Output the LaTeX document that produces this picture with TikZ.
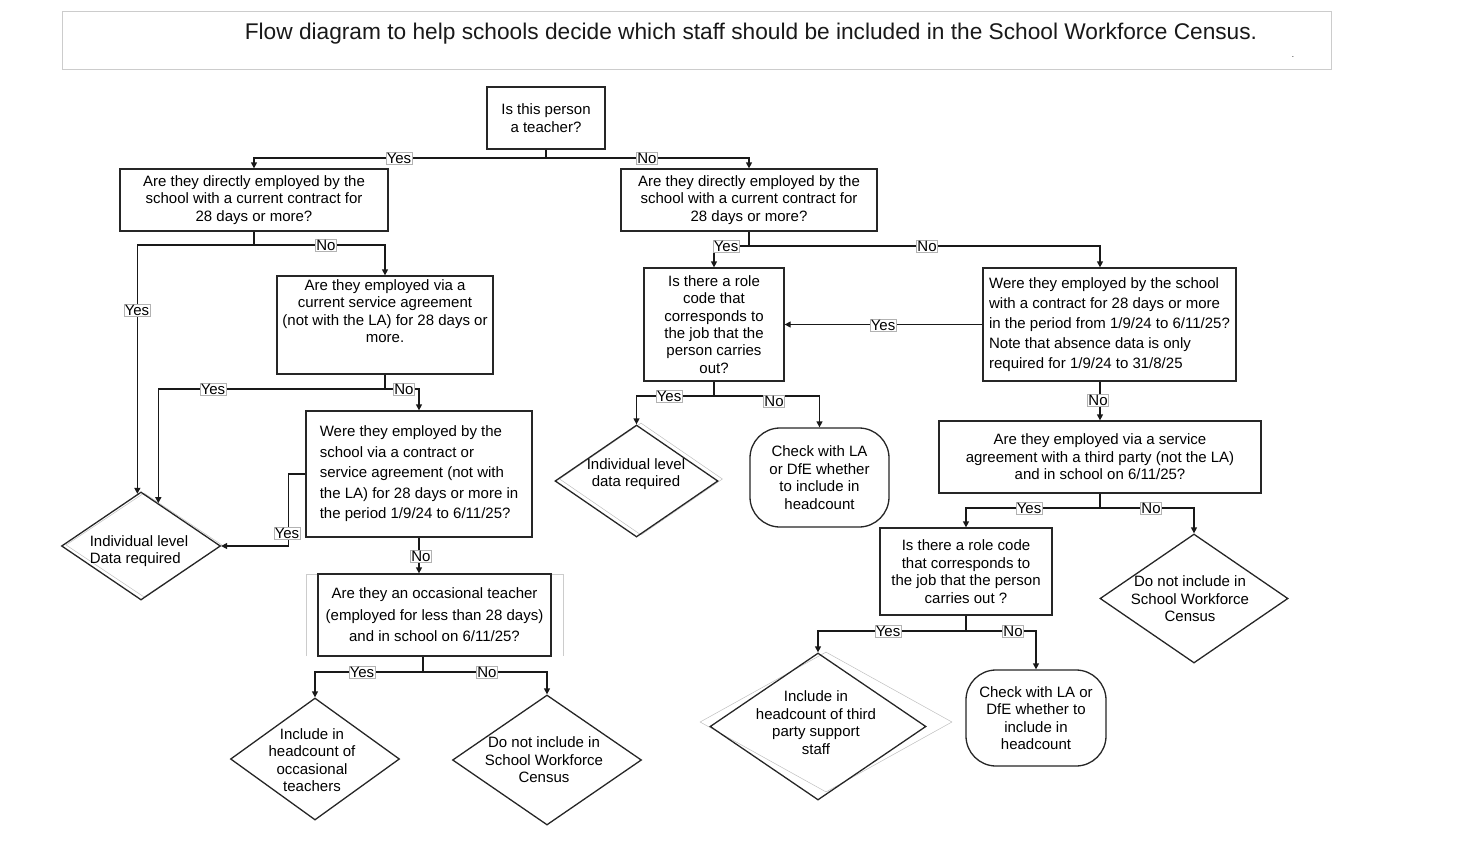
\documentclass[tikz,border=0pt]{standalone}
\usepackage{fontspec}
\setmainfont{Liberation Sans}
\usetikzlibrary{arrows.meta,shapes.geometric}

\begin{document}
\begin{tikzpicture}[x=1pt,y=-1pt,
    box/.style={draw=black!85,line width=1.3pt,fill=white,align=center,inner sep=2pt,font=\fontsize{15}{17.5}\selectfont},
    term/.style={box,rounded corners=30pt},
    dec/.style={draw=black!85,line width=1.3pt,diamond,inner sep=0pt},
    ghost/.style={draw=black!25,line width=0.5pt,diamond,inner sep=0pt},
    txt/.style={align=center,inner sep=0pt,font=\fontsize{15}{17.5}\selectfont},
    lbl/.style={fill=white,draw=black!30,line width=0.4pt,inner sep=1pt,font=\fontsize{15}{17}\selectfont},
    link/.style={line width=1.3pt,draw=black!90},
    arr/.style={link,-{Triangle[length=6pt,width=6pt]}}]

      \useasboundingbox (0,0) rectangle (1457,860);

      \node[draw=black!20,line width=1pt,minimum width=1269,minimum height=58] (head) at (696.5,40) {};
      \node[font=\fontsize{22.7}{26}\selectfont,text=black!90] (title) at (751,34) {Flow diagram to help schools decide which staff should be included in the School Workforce Census.};
      \node[font=\fontsize{8}{8}\selectfont] (dot) at (1293,57) {.};

      \node[box,minimum width=118,minimum height=62] (n1) at (546,118) {Is this person\\a teacher?};

      \node[box,minimum width=268,minimum height=62] (l1) at (254,200) {Are they directly employed by the\\school with a current contract for\\28 days or more?};
      \node[box,minimum width=216,minimum height=98] (l2) at (385,325) {Are they employed via a\\current service agreement\\(not with the LA) for 28 days or\\more.\\[10pt]\mbox{}};
      \node[box,align=left,minimum width=226,minimum height=126,font=\fontsize{15}{20.5}\selectfont] (l3) at (419,474) {Were they employed by the\\school via a contract or\\service agreement (not with\\the LA) for 28 days or more in\\the period 1/9/24 to 6/11/25?};
      \draw[black!20,line width=0.6pt] (306,656) -- (306,574) -- (563,574) -- (563,656);
      \node[box,minimum width=233,minimum height=82,font=\fontsize{15}{21.5}\selectfont] (l4) at (434.5,615) {Are they an occasional teacher\\(employed for less than 28 days)\\and in school on 6/11/25?};

      \node[ghost,minimum width=156,minimum height=104] (d1g) at (144,545) {};
      \node[dec,minimum width=159,minimum height=108] (d1) at (141,546) {};
      \node[txt,align=left] (d1t) at (139,551) {Individual level\\Data required};
      \node[dec,minimum width=169,minimum height=122] (d2) at (315,759) {};
      \node[txt] (d2t) at (312,760) {Include in\\headcount of\\occasional\\teachers};
      \node[dec,minimum width=189,minimum height=130] (d3) at (547,760) {};
      \node[txt] (d3t) at (544,760) {Do not include in\\School Workforce\\Census};

      \node[box,minimum width=256,minimum height=62] (r1) at (749,200) {Are they directly employed by the\\school with a current contract for\\28 days or more?};
      \node[box,minimum width=140,minimum height=113,font=\fontsize{15}{17.4}\selectfont] (r2) at (714,324.5) {Is there a role\\code that\\corresponds to\\the job that the\\person carries\\out?};
      \node[box,align=left,minimum width=253,minimum height=113,font=\fontsize{15}{20}\selectfont] (r3) at (1109.5,324.5) {Were they employed by the school\\with a contract for 28 days or more\\in the period from 1/9/24 to 6/11/25?\\Note that absence data is only\\required for 1/9/24 to 31/8/25};
      \node[box,minimum width=322,minimum height=72] (r4) at (1100,457) {Are they employed via a service\\agreement with a third party (not the LA)\\and in school on 6/11/25?};

      \node[ghost,minimum width=163,minimum height=112] (d4g) at (641,479) {};
      \node[dec,minimum width=163,minimum height=112] (d4) at (636.5,481) {};
      \node[txt] (d4t) at (636,474) {Individual level\\data required};
      \node[term,minimum width=139,minimum height=99] (r6) at (819.5,477.5) {Check with LA\\or DfE whether\\to include in\\headcount};

      \node[box,minimum width=172,minimum height=87] (r5) at (966,571.5) {Is there a role code\\that corresponds to\\the job that the person\\carries out ?};
      \node[dec,minimum width=188,minimum height=129] (d6) at (1194,598.5) {};
      \node[txt] (d6t) at (1190,599) {Do not include in\\School Workforce\\Census};

      \node[ghost,minimum width=252,minimum height=140] (d7g) at (826,722) {};
      \node[dec,minimum width=216,minimum height=147] (d7) at (818,726.5) {};
      \node[txt] (d7t) at (816,722.5) {Include in\\headcount of third\\party support\\staff};
      \node[term,minimum width=140,minimum height=96] (r7) at (1036,718) {Check with LA or\\DfE whether to\\include in\\headcount};

      \coordinate (j1) at (546,158);
      \coordinate (j2) at (254,245);
      \coordinate (j3) at (385,389);
      \coordinate (j4) at (423,672);
      \coordinate (j5) at (749,246);
      \coordinate (j6) at (1100,508);
      \coordinate (j7) at (714,396);
      \coordinate (j8) at (966,631);

      \draw[link] (n1) -- (j1);
      \draw[arr] (j1) -| (l1);
      \draw[arr] (j1) -| (r1);

      \draw[link] (l1) -- (j2);
      \draw[arr] (j2) -| (l2);
      \draw[arr] (j2) -| (d1.94.5);
      \draw[link] (l2) -- (j3);
      \draw[arr] (j3) -| (d1.68.2);
      \draw[arr] (j3) -| (l3);
      \draw[arr] (l3.west) -- ++(-17,0) |- (d1.east);
      \draw[arr] (l3.south) -- (l3.south |- l4.north);
      \draw[link] (j4 |- l4.south) -- (j4);
      \draw[arr] (j4) -| (d2);
      \draw[arr] (j4) -| (d3);

      \draw[link] (r1) -- (j5);
      \draw[arr] (j5) -| (r2);
      \draw[arr] (j5) -| (r4.north |- r3.north);
      \draw[arr] (r3.west) -- (r2.east);
      \draw[arr] (r4.north |- r3.south) -- (r4.north);
      \draw[link] (r2) -- (j7);
      \draw[arr] (j7) -| (d4);
      \draw[arr] (j7) -| (r6);
      \draw[link] (r4) -- (j6);
      \draw[arr] (j6) -| (r5);
      \draw[arr] (j6) -| (d6);
      \draw[link] (r5) -- (j8);
      \draw[arr] (j8) -| (d7);
      \draw[arr] (j8) -| (r7);

      \foreach \x/\y/\t [count=\i] in {399/158/Yes, 647/158/No, 326/245/No, 137/310/Yes,
          213/389/Yes, 404/389/No, 287/533/Yes, 421/556/No, 362/672/Yes, 487/672/No,
          726/246/Yes, 927/246/No, 883/325/Yes, 1098/400/No, 669/396/Yes, 774/401/No,
          1029/508/Yes, 1151/508/No, 888/631/Yes, 1013/631/No} {
        \node[lbl] (ans\i) at (\x,\y) {\t};
      }
    \end{tikzpicture}
\end{document}
